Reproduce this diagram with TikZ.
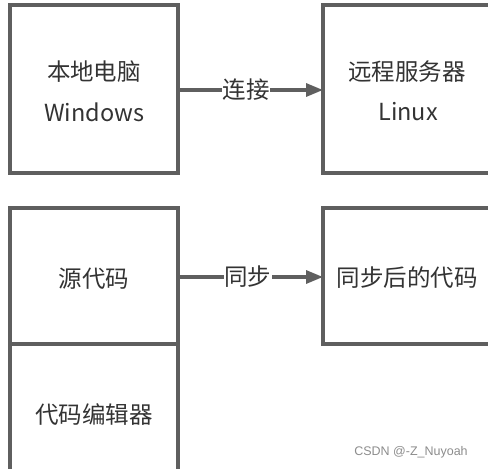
\documentclass[tikz,border=0pt]{standalone}
\usepackage{fontspec}
\setmainfont{Noto Sans CJK SC}
\newfontfamily\wmfont{Liberation Sans}
\usetikzlibrary{arrows.meta}
\definecolor{edge}{HTML}{5F5F5F}
\definecolor{txt}{HTML}{333333}
\begin{document}
\begin{tikzpicture}[x=1pt,y=-1pt,
  boxline/.style={draw=edge,line width=3.4pt},
  lbl/.style={text=txt,font=\fontsize{23.5}{28}\selectfont,inner sep=0pt},
  conn/.style={draw=edge,line width=3.2pt,-{Triangle[length=17pt,width=13pt]}},
  connlbl/.style={fill=white,text=txt,font=\fontsize{23.5}{28}\selectfont,inner sep=0.5pt}]
\useasboundingbox (0,0) rectangle (488,469);
\begin{scope}
\clip (0,0) rectangle (488,469);
% boxes
\draw[boxline] (10,5) rectangle (178,173);
\draw[boxline] (323,5) rectangle (500,173);
\draw[boxline] (10,208) rectangle (178,344);
\draw[boxline] (10,344) rectangle (178,480);
\draw[boxline] (323,208) rectangle (500,344);
\end{scope}
% anchors
\coordinate (pcR) at (178,90);
\coordinate (srvL) at (323,90);
\coordinate (srcR) at (178,277);
\coordinate (syncL) at (323,277);
% texts
\node[lbl] (pc1) at (94,72) {本地电脑};
\node[lbl] (pc2) at (94,112) {Windows};
\node[lbl] (srv1) at (407,72) {远程服务器};
\node[lbl] (srv2) at (408,112) {Linux};
\node[lbl] (src) at (94,279) {源代码};
\node[lbl] (edit) at (94,415) {代码编辑器};
\node[lbl] (sync) at (407,278) {同步后的代码};
% connectors
\draw[conn] (pcR) -- node[connlbl,pos=0.47] (c1) {连接} (srvL);
\draw[conn] (srcR) -- node[connlbl,pos=0.48] (c2) {同步} (syncL);
% watermark
\node[text=black!45,font=\wmfont\fontsize{12.5}{14}\selectfont,inner sep=0pt] (wm) at (411,452) {CSDN @-Z\_Nuyoah};
\end{tikzpicture}
\end{document}
